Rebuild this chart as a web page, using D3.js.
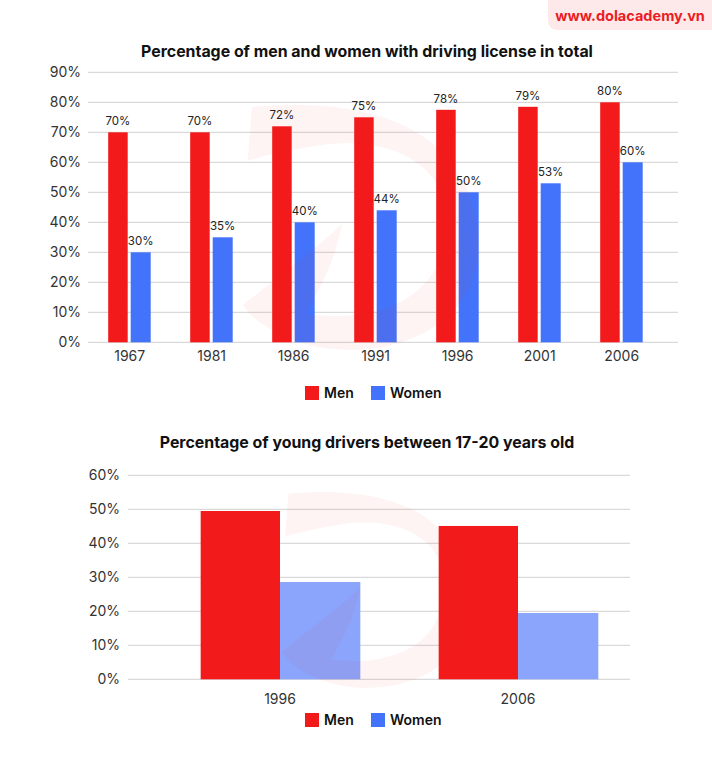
<!DOCTYPE html>
<html>
<head>
<meta charset="utf-8">
<script src="https://cdn.jsdelivr.net/npm/d3@7"></script>
<style>
  body { margin: 0; background: #fff; font-family: Inter, "Noto Sans", sans-serif; }
  .grid line { stroke: #d9d9d9; stroke-width: 1.3; }
  .axis text { fill: #333; font-size: 14px; }
</style>
</head>
<body>
<script>
// top chart data
var years = ["1967", "1981", "1986", "1991", "1996", "2001", "2006"];
var men = [70, 70, 72, 75, 77.5, 78.5, 80];
var women = [30, 35, 40, 44, 50, 53, 60];
var topTicks = [0, 10, 20, 30, 40, 50, 60, 70, 80, 90];

// bottom chart data
var youngYears = ["1996", "2006"];
var youngMen = [49.5, 45.1];
var youngWomen = [28.6, 19.5];
var bottomTicks = [0, 10, 20, 30, 40, 50, 60];

var seriesNames = ["Men", "Women"];

var W = 712, H = 777;
var red = "#f21a1a", blue = "#4373fb", lightBlue = "#8ba5fd";

var svg = d3.select("body").append("svg").attr("width", W).attr("height", H);

// logo badge
svg.append("rect").attr("x", 548).attr("y", -10).attr("width", 180).attr("height", 40)
  .attr("rx", 9).attr("fill", "#fde9e9");
svg.append("text").attr("x", 630).attr("y", 21).attr("text-anchor", "middle")
  .attr("fill", "#ec1c24").attr("font-size", "14.5px").attr("font-weight", 700)
  .attr("font-family", "Inter, sans-serif").text("www.dolacademy.vn");

function watermark(g, cx, cy, s) {
  // faint "D" logo behind the plots
  var w = g.append("g").attr("transform", "translate(" + cx + "," + cy + ") scale(" + s + ")")
    .attr("fill", "#e83a3a").attr("opacity", 0.055);
  w.append("path").attr("d",
    "M-120,-120 C-10,-130 110,-110 130,10 C145,110 60,150 -10,150 C-60,150 -110,130 -130,100 " +
    "C-80,60 -40,30 -20,10 C-30,60 -50,90 -60,110 C10,120 80,100 95,30 C110,-50 40,-95 -60,-75 " +
    "C-90,-70 -110,-65 -125,-60 Z");
}

function title(txt, y) {
  svg.append("text").attr("x", 367).attr("y", y).attr("text-anchor", "middle")
    .attr("font-size", "15.9px").attr("font-weight", 700).attr("fill", "#111").text(txt);
}

function legend(y) {
  var items = [{n: seriesNames[0], c: red, x: 305}, {n: seriesNames[1], c: blue, x: 371}];
  items.forEach(function(it) {
    svg.append("rect").attr("x", it.x).attr("y", y - 7).attr("width", 14).attr("height", 14).attr("fill", it.c);
    svg.append("text").attr("x", it.x + 19).attr("y", y + 5).attr("font-size", "14px")
      .attr("font-weight", 600).attr("fill", "#111").text(it.n);
  });
}

// ---------- top chart ----------
title("Percentage of men and women with driving license in total", 57);

var y1 = d3.scaleLinear().domain([0, 90]).range([342.3, 72.3]);
var x1 = d3.scaleBand().domain(years).range([88.7, 662.7]);

var g1 = svg.append("g");
g1.append("g").attr("class", "grid").selectAll("line").data(topTicks).enter().append("line")
  .attr("x1", 88).attr("x2", 678).attr("y1", function(d){ return y1(d); }).attr("y2", function(d){ return y1(d); });

g1.append("g").attr("class", "axis").selectAll("text").data(topTicks).enter().append("text")
  .attr("x", 81).attr("y", function(d){ return y1(d) + 5; }).attr("text-anchor", "end")
  .text(function(d){ return d + "%"; });

g1.append("g").attr("class", "axis").selectAll("text").data(years).enter().append("text")
  .attr("x", function(d){ return x1(d) + x1.bandwidth() / 2; }).attr("y", 361).attr("text-anchor", "middle")
  .text(function(d){ return d; });

var topData = years.map(function(y, i){ return {year: y, men: men[i], women: women[i]}; });

g1.selectAll(".men").data(topData).enter().append("rect").attr("class", "men")
  .attr("x", function(d){ return x1(d.year) + x1.bandwidth() / 2 - 21.5; })
  .attr("width", 19.5)
  .attr("y", function(d){ return y1(d.men); })
  .attr("height", function(d){ return y1(0) - y1(d.men); })
  .attr("fill", red);

g1.selectAll(".women").data(topData).enter().append("rect").attr("class", "women")
  .attr("x", function(d){ return x1(d.year) + x1.bandwidth() / 2 + 1; })
  .attr("width", 20)
  .attr("y", function(d){ return y1(d.women); })
  .attr("height", function(d){ return y1(0) - y1(d.women); })
  .attr("fill", blue);

g1.selectAll(".lm").data(topData).enter().append("text")
  .attr("x", function(d){ return x1(d.year) + x1.bandwidth() / 2 - 11.75; })
  .attr("y", function(d){ return y1(d.men) - 7; }).attr("text-anchor", "middle")
  .attr("font-size", "11.5px").attr("fill", "#222")
  .text(function(d){ return Math.round(d.men) + "%"; });

g1.selectAll(".lw").data(topData).enter().append("text")
  .attr("x", function(d){ return x1(d.year) + x1.bandwidth() / 2 + 11; })
  .attr("y", function(d){ return y1(d.women) - 7; }).attr("text-anchor", "middle")
  .attr("font-size", "11.5px").attr("fill", "#222")
  .text(function(d){ return Math.round(d.women) + "%"; });

watermark(svg, 360, 215, 0.9);
legend(393);

// ---------- bottom chart ----------
title("Percentage of young drivers between 17-20 years old", 448);

var y2 = d3.scaleLinear().domain([0, 60]).range([679.3, 475.3]);
var x2 = d3.scaleBand().domain(youngYears).range([161, 637]);

var g2 = svg.append("g");
g2.append("g").attr("class", "grid").selectAll("line").data(bottomTicks).enter().append("line")
  .attr("x1", 128).attr("x2", 630).attr("y1", function(d){ return y2(d); }).attr("y2", function(d){ return y2(d); });

g2.append("g").attr("class", "axis").selectAll("text").data(bottomTicks).enter().append("text")
  .attr("x", 120).attr("y", function(d){ return y2(d) + 5; }).attr("text-anchor", "end")
  .text(function(d){ return d + "%"; });

g2.append("g").attr("class", "axis").selectAll("text").data(youngYears).enter().append("text")
  .attr("x", function(d){ return x2(d) + x2.bandwidth() / 2; }).attr("y", 704).attr("text-anchor", "middle")
  .text(function(d){ return d; });

var bottomData = youngYears.map(function(y, i){ return {year: y, men: youngMen[i], women: youngWomen[i]}; });
var bw = x2.bandwidth() / 3;

g2.selectAll(".men").data(bottomData).enter().append("rect")
  .attr("x", function(d){ return x2(d.year) + x2.bandwidth() / 2 - bw; })
  .attr("width", bw)
  .attr("y", function(d){ return y2(d.men); })
  .attr("height", function(d){ return y2(0) - y2(d.men); })
  .attr("fill", red);

g2.selectAll(".women").data(bottomData).enter().append("rect")
  .attr("x", function(d){ return x2(d.year) + x2.bandwidth() / 2; })
  .attr("width", bw + 1)
  .attr("y", function(d){ return y2(d.women); })
  .attr("height", function(d){ return y2(0) - y2(d.women); })
  .attr("fill", lightBlue);

watermark(svg, 375, 580, 0.72);
legend(720);
</script>
</body>
</html>
